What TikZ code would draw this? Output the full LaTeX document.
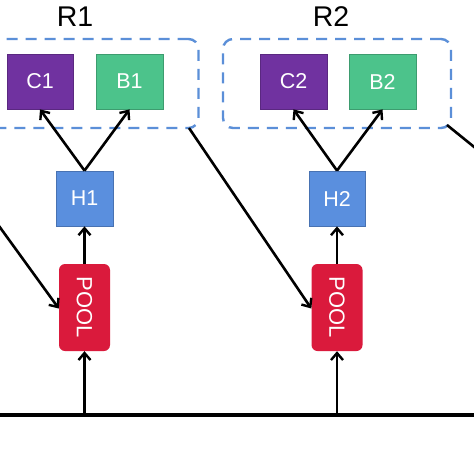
\documentclass[tikz,border=0pt]{standalone}
\usepackage{fontspec}
\setmainfont{Liberation Sans}
\usetikzlibrary{arrows.meta}
\definecolor{cpurple}{HTML}{7032A0}
\definecolor{cgreen}{HTML}{4CC38B}
\definecolor{cblue}{HTML}{5A8FDE}
\definecolor{cred}{HTML}{DA1A3C}
\definecolor{cdash}{HTML}{5B8FD8}
\tikzset{
  sq/.style={draw=#1!80!black, fill=#1, line width=0.8pt, text=white, font=\fontsize{21.5}{21.5}\selectfont, inner sep=0pt},
  poolbox/.style={fill=cred, rounded corners=6pt, minimum width=51pt, minimum height=87pt, text=white, inner sep=0pt},
  regionbox/.style={draw=cdash, line width=2.4pt, dash pattern=on 11pt off 8pt, rounded corners=10pt, minimum width=228pt, minimum height=89pt, inner sep=0pt},
  rlabel/.style={font=\fontsize{28.5}{28.5}\selectfont},
  arr/.style={line width=2.6pt, -{Straight Barb[length=7pt,width=12pt,line width=2.4pt]}},
  plain/.style={line width=2.6pt},
}
\begin{document}
\begin{tikzpicture}[x=1pt,y=-1pt]
\useasboundingbox (0,0) rectangle (474,474);
\clip (0,0) rectangle (474,474);
\fill[white] (0,0) rectangle (474,474);
% region boxes
\node[regionbox] (box1) at (84.5,83.5) {};
\node[regionbox] (box2) at (337,83.5) {};
\node[rlabel] (r1) at (75,17) {R1};
\node[rlabel] (r2) at (331,17) {R2};
% column 1
\node[sq=cpurple, minimum width=66pt, minimum height=55pt] (c1) at (40,81.5) {C1};
\node[sq=cgreen, minimum width=67pt, minimum height=55pt] (b1) at (129.5,81.5) {B1};
\node[sq=cblue, minimum width=57pt, minimum height=55pt] (h1) at (84.5,198.5) {H1};
\node[poolbox] (p1) at (84.5,307.5) {\rotatebox{-90}{\fontsize{22}{22}\selectfont POOL}};
% column 2
\node[sq=cpurple, minimum width=67pt, minimum height=55pt] (c2) at (293.5,81.5) {C2};
\node[sq=cgreen, minimum width=67pt, minimum height=55pt] (b2) at (382.5,81.5) {B2};
\node[sq=cblue, minimum width=56pt, minimum height=55pt] (h2) at (337,198.5) {H2};
\node[poolbox] (p2) at (337,307.5) {\rotatebox{-90}{\fontsize{22}{22}\selectfont POOL}};
% base line
\coordinate (bl) at (-5,415);
\coordinate (br) at (480,415);
\coordinate (base1) at (84.5,415);
\coordinate (base2) at (337,415);
\draw[line width=3.5pt] (bl) -- (br);
% arrows
\draw[arr] (base1) -- (p1.south);
\draw[arr] (base2) -- (p2.south);
\draw[arr] (p1.north) -- (h1.south);
\draw[arr] (p2.north) -- (h2.south);
\draw[arr] (h1.north) -- (c1.south);
\draw[arr] (h1.north) -- (b1.south);
\draw[arr] (h2.north) -- (c2.south);
\draw[arr] (h2.north) -- (b2.south);
% diagonal feeds
\coordinate (in0) at (-30,186);
\coordinate (out1) at (189,128);
\coordinate (out2) at (447,125);
\coordinate (in3) at (510,176);
\draw[arr] (in0) -- ([yshift=-1pt]p1.west);
\draw[arr] (out1) -- ([yshift=-1pt]p2.west);
\draw[plain] (out2) -- (in3);
\end{tikzpicture}
\end{document}
